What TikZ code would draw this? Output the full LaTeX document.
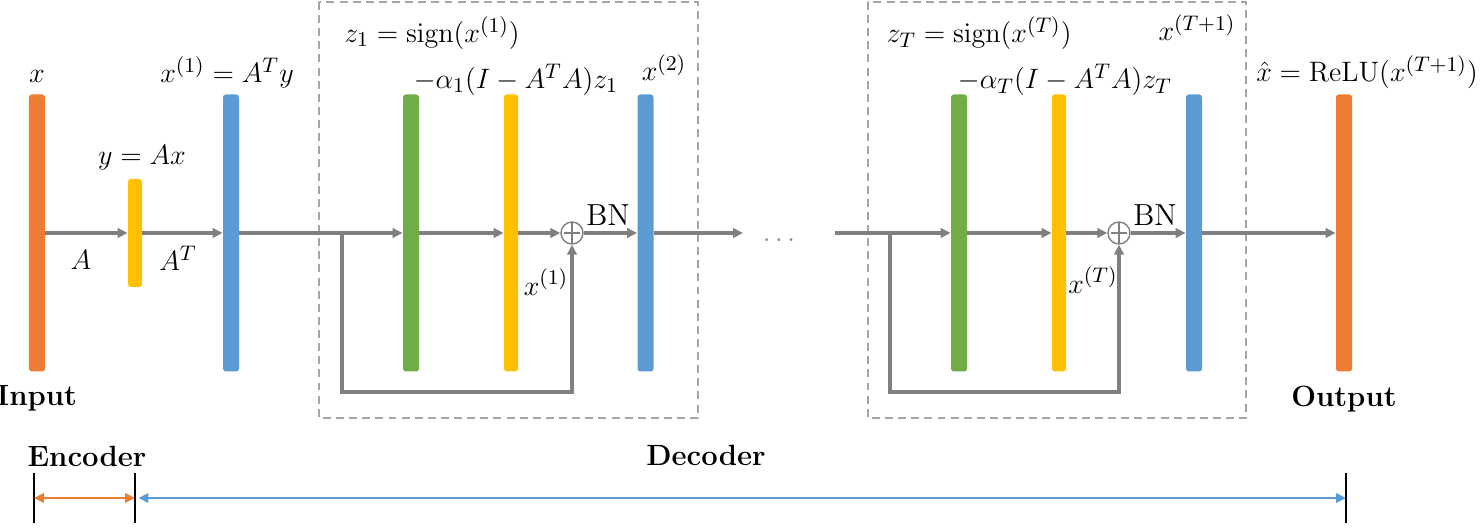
\documentclass[tikz,border=0pt]{standalone}
\usetikzlibrary{arrows.meta,positioning}
\definecolor{orng}{HTML}{ED7D31}
\definecolor{gold}{HTML}{FFC000}
\definecolor{sky}{HTML}{5B9BD5}
\definecolor{leaf}{HTML}{70AD47}
\definecolor{wire}{HTML}{7F7F7F}
\definecolor{frame}{HTML}{A6A6A6}
\tikzset{
  bar/.style={rectangle,rounded corners=1.2pt,inner sep=0pt,minimum width=0.24cm,minimum height=4.155cm},
  inbar/.style={bar,fill=orng},
  statebar/.style={bar,fill=sky},
  signbar/.style={bar,fill=leaf},
  gradbar/.style={bar,fill=gold,minimum width=0.21cm},
  lbl/.style={inner sep=0pt,font=\fontsize{13}{15}\selectfont},
  boldlbl/.style={inner sep=0pt,font=\fontsize{12.5}{14}\selectfont\bfseries},
  arrow/.style={-{Triangle[length=4.2pt,width=4pt]},line width=1.3pt,draw=wire},
  dashbox/.style={draw=frame,line width=0.6pt,dash pattern=on 3.4pt off 2.2pt},
  adder/.style={circle,draw=wire,line width=0.6pt,minimum size=0.33cm,inner sep=0pt,
    path picture={\draw[wire,line width=0.5pt,shorten <=1.3pt,shorten >=1.3pt]
      (path picture bounding box.north) -- (path picture bounding box.south)
      (path picture bounding box.west) -- (path picture bounding box.east);}},
  limitline/.style={line width=0.7pt,draw=black},
  span/.style={{Triangle[length=4.2pt,width=4pt]}-{Triangle[length=4.2pt,width=4pt]},line width=0.9pt}
}

\begin{document}
\begin{tikzpicture}[x=0.015cm,y=-0.015cm]
  \useasboundingbox (0,0) rectangle (1483,530);
  % unrolled iterations
  \draw[dashbox] (319,2) rectangle (698,418);
  \draw[dashbox] (868,2) rectangle (1246,418);

  % layers
  \node[inbar] (in) at (37,233) {};
  \node[gradbar,minimum height=1.62cm] (y) at (135,233) {};
  \node[statebar] (x1) at (231,233) {};
  \node[signbar] (g1) at (411,233) {};
  \node[gradbar] (f1) at (511,233) {};
  \node[adder] (p1) at (572,233) {};
  \node[statebar] (x2) at (645.5,233) {};
  \node[signbar] (g2) at (959,233) {};
  \node[gradbar] (f2) at (1059,233) {};
  \node[adder] (p2) at (1119,233) {};
  \node[statebar] (x3) at (1194,233) {};
  \node[inbar] (out) at (1344,233) {};

  \coordinate (gapL) at (743,233);
  \coordinate (gapR) at (835,233);
  \coordinate (br1) at (342,233);
  \coordinate (br2) at (890,233);
  \node[lbl,text=wire] (dots) at (779,240) {$\ldots$};

  \foreach \a/\b in {in/y,y/x1,x1/g1,g1/f1,f1/p1,p1/x2,x2/gapL,gapR/g2,g2/f2,f2/p2,p2/x3,x3/out}
    \draw[arrow] (\a) -- (\b);
  % skip connections
  \draw[arrow] (br1) -- ++(0,159) -| (p1.south);
  \draw[arrow] (br2) -- ++(0,159) -| (p2.south);

  % labels
  \node[lbl] (lx) at (37,76) {$x$};
  \node[lbl] (ly) at (142,158) {$y=Ax$};
  \node[lbl] (lA) at (81,260) {$A$};
  \node[lbl] (lAT) at (178,258) {$A^T$};
  \node[lbl] (lx1) at (227,72) {$x^{(1)}=A^Ty$};
  \node[lbl] (lz1) at (432,33) {$z_1=\mathrm{sign}(x^{(1)})$};
  \node[lbl] (lf1) at (516,80) {$-\alpha_1(I-A^TA)z_1$};
  \node[lbl] (lx2) at (664,68) {$x^{(2)}$};
  \node[lbl] (bn1) at (608,215) {BN};
  \node[lbl] (lr1) at (546,282) {$x^{(1)}$};
  \node[lbl] (lzT) at (979,33) {$z_T=\mathrm{sign}(x^{(T)})$};
  \node[lbl] (lfT) at (1065,80) {$-\alpha_T(I-A^TA)z_T$};
  \node[lbl] (lx3) at (1197,28) {$x^{(T+1)}$};
  \node[lbl] (bn2) at (1155,215) {BN};
  \node[lbl] (lrT) at (1093,280) {$x^{(T)}$};
  \node[lbl] (lout) at (1367,72) {$\hat{x}=\mathrm{ReLU}(x^{(T+1)})$};
  \node[boldlbl,below=0.2cm of in] (input) {Input};
  \node[boldlbl,below=0.2cm of out] (output) {Output};

  % encoder / decoder spans
  \node[boldlbl] (enc) at (87,456) {Encoder};
  \node[boldlbl] (dec) at (706,455) {Decoder};
  \coordinate (t0) at (34,498);
  \coordinate (t1) at (135,498);
  \coordinate (t2) at (1346,498);
  \foreach \t in {t0,t1,t2}
    \draw[limitline] (\t) ++(0,-25) -- ++(0,50);
  \draw[span,draw=orng] (t0) -- (t1);
  \draw[span,draw=sky,shorten <=1.5pt] (t1) -- (t2);
\end{tikzpicture}
\end{document}
